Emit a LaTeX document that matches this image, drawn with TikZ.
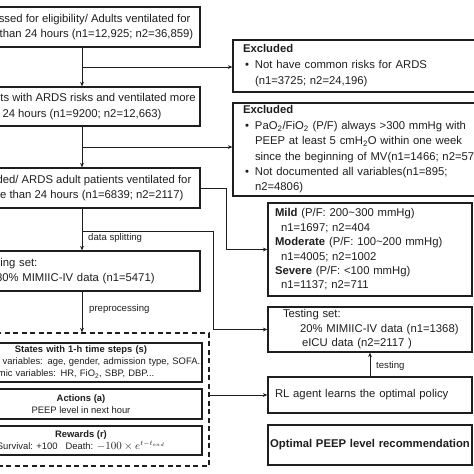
\documentclass[tikz,border=0pt]{standalone}
\usepackage{fontspec}
\setmainfont{Liberation Sans}
\usepackage{xcolor}
\usetikzlibrary{arrows.meta, calc}
\definecolor{ink}{HTML}{1E1E1E}

\begin{document}
\begin{tikzpicture}[x=1pt, y=-1pt,
    every node/.style={inner sep=0pt, text=ink, font=\fontsize{11.3}{15.5}\selectfont},
    mainbox/.style={draw=ink, line width=1.3pt, minimum width=236pt, align=center},
    sidebox/.style={draw=ink, line width=1.3pt, minimum width=204pt, text width=190pt, align=left},
    exbox/.style={draw=ink, line width=1.3pt, inner xsep=10pt, text width=250pt, align=left},
    mdpbox/.style={draw=ink, line width=1.3pt, minimum width=242pt, font=\fontsize{9.4}{12}\selectfont},
    lbl/.style={anchor=west, font=\fontsize{9.6}{12}\selectfont},
    flow/.style={draw=ink, line width=1pt},
    arr/.style={flow, -{Stealth[length=4.5pt, width=3.8pt]}}]
    \useasboundingbox (0,0) rectangle (474,474);
    \clip (0,0) rectangle (474,474);

    % left column
    \node[mainbox, minimum height=40pt] (assess) at (82,27)
        {Assessed for eligibility/ Adults ventilated for\\ more than 24 hours (n1=12,925; n2=36,859)};
    \node[mainbox, minimum height=39pt] (risk) at (82,106.5)
        {Patients with ARDS risks and ventilated more\\ 24 hours (n1=9200; n2=12,663)};
    \node[mainbox, minimum height=40pt] (incl) at (82,188)
        {Included/ ARDS adult patients ventilated for\\ more than 24 hours (n1=6839; n2=2117)};
    \node[mainbox, minimum height=40pt, text width=214pt, align=left] (train) at (82,271)
        {Training set:\\ \hspace*{21pt}80\% MIMIIC-IV data (n1=5471)};

    % MDP elements
    \node[draw=ink, line width=1.3pt, dash pattern=on 5pt off 3.5pt,
        minimum width=254pt, minimum height=133pt] (mdp) at (82,399.5) {};
    \node[mdpbox, minimum height=39pt, text width=242pt, align=left] (states) at (81,362.5)
        {\makebox[242pt]{\textbf{States with 1-h time steps (s)}}\\
         \hspace*{16pt}\mbox{Static variables: age, gender, admission type, SOFA..}\\
         \hspace*{16pt}\mbox{Dynamic variables: HR, FiO\textsubscript{2}, SBP, DBP...}};
    \node[mdpbox, minimum height=30pt, align=center] (act) at (81,404)
        {\textbf{Actions (a)}\\ PEEP level in next hour};
    \node[mdpbox, minimum height=29pt, align=center] (rew) at (81,440.5)
        {\textbf{Rewards (r)}\\ Survival: +100\hspace{8pt}Death: {\fontsize{10.5}{12}\selectfont$-100\times e^{t-t_{end}}$}};

    % right column
    \node[exbox, minimum height=52pt, font=\fontsize{11.3}{16}\selectfont] (ex1) at (368,66)
        {\textbf{Excluded}\\
         \makebox[12pt][l]{\hspace{2pt}\textbullet}Not have common risks for ARDS\\
         \hspace*{12pt}(n1=3725; n2=24,196)};
    \node[exbox, minimum height=93pt, font=\fontsize{11.3}{15.4}\selectfont] (ex2) at (368,149.5)
        {\textbf{Excluded}\\
         \makebox[12pt][l]{\hspace{2pt}\textbullet}PaO\textsubscript{2}/FiO\textsubscript{2} (P/F) always >300 mmHg with\\
         \hspace*{12pt}PEEP at least 5 cmH\textsubscript{2}O within one week\\
         \hspace*{12pt}since the beginning of MV(n1=1466; n2=57\\
         \makebox[12pt][l]{\hspace{2pt}\textbullet}Not documented all variables(n1=895;\\
         \hspace*{12pt}n2=4806)};
    \node[sidebox, minimum height=93pt, font=\fontsize{11.3}{14.4}\selectfont] (sev) at (370,249.5)
        {\textbf{Mild} (P/F: 200\textasciitilde300 mmHg)\\
         \hspace*{6pt}n1=1697; n2=404\\
         \textbf{Moderate} (P/F: 100\textasciitilde200 mmHg)\\
         \hspace*{6pt}n1=4005; n2=1002\\
         \textbf{Severe} (P/F: <100 mmHg)\\
         \hspace*{6pt}n1=1137; n2=711};
    \node[sidebox, minimum height=45pt, font=\fontsize{11.3}{14.5}\selectfont] (test) at (370,329.5)
        {\hspace*{8pt}Testing set:\\
         \hspace*{25pt}20\% MIMIIC-IV data (n1=1368)\\
         \hspace*{27pt}eICU data (n2=2117 )};
    \node[sidebox, minimum height=36pt] (rl) at (370,395) {RL agent learns the optimal policy};
    \node[sidebox, minimum height=40pt, text width=204pt, align=center] (opt) at (370,445)
        {\makebox[204pt]{\textbf{Optimal PEEP level recommendation}}};

    % connectors
    \coordinate (b1) at ($(assess.south)!0.5!(risk.north)$);
    \coordinate (b2) at ($(risk.south)!0.5!(incl.north)$);
    \coordinate (split) at (82,231);
    \coordinate (bend) at (213,231);
    \draw[arr] (assess) -- (risk);
    \draw[arr] (b1) -- (b1 -| ex1.west);
    \draw[arr] (risk) -- (incl);
    \draw[arr] (b2) -- (b2 -| ex2.west);
    \draw[arr] (incl.east) -- ++(26,0) |- (sev.west);
    \draw[arr] (incl) -- (train);
    \draw[arr] (split) -- (bend) |- (test.west);
    \draw[arr] (train) -- (mdp);
    \draw[arr] (mdp.east |- rl.west) -- (rl.west);
    \draw[arr] (rl.north) -- (test.south);

    \node[lbl] (lsplit) at (88,238) {data splitting};
    \node[lbl] (lprep) at (89,309) {preprocessing};
    \node[lbl] (ltest) at (376,366) {testing};
\end{tikzpicture}
\end{document}
